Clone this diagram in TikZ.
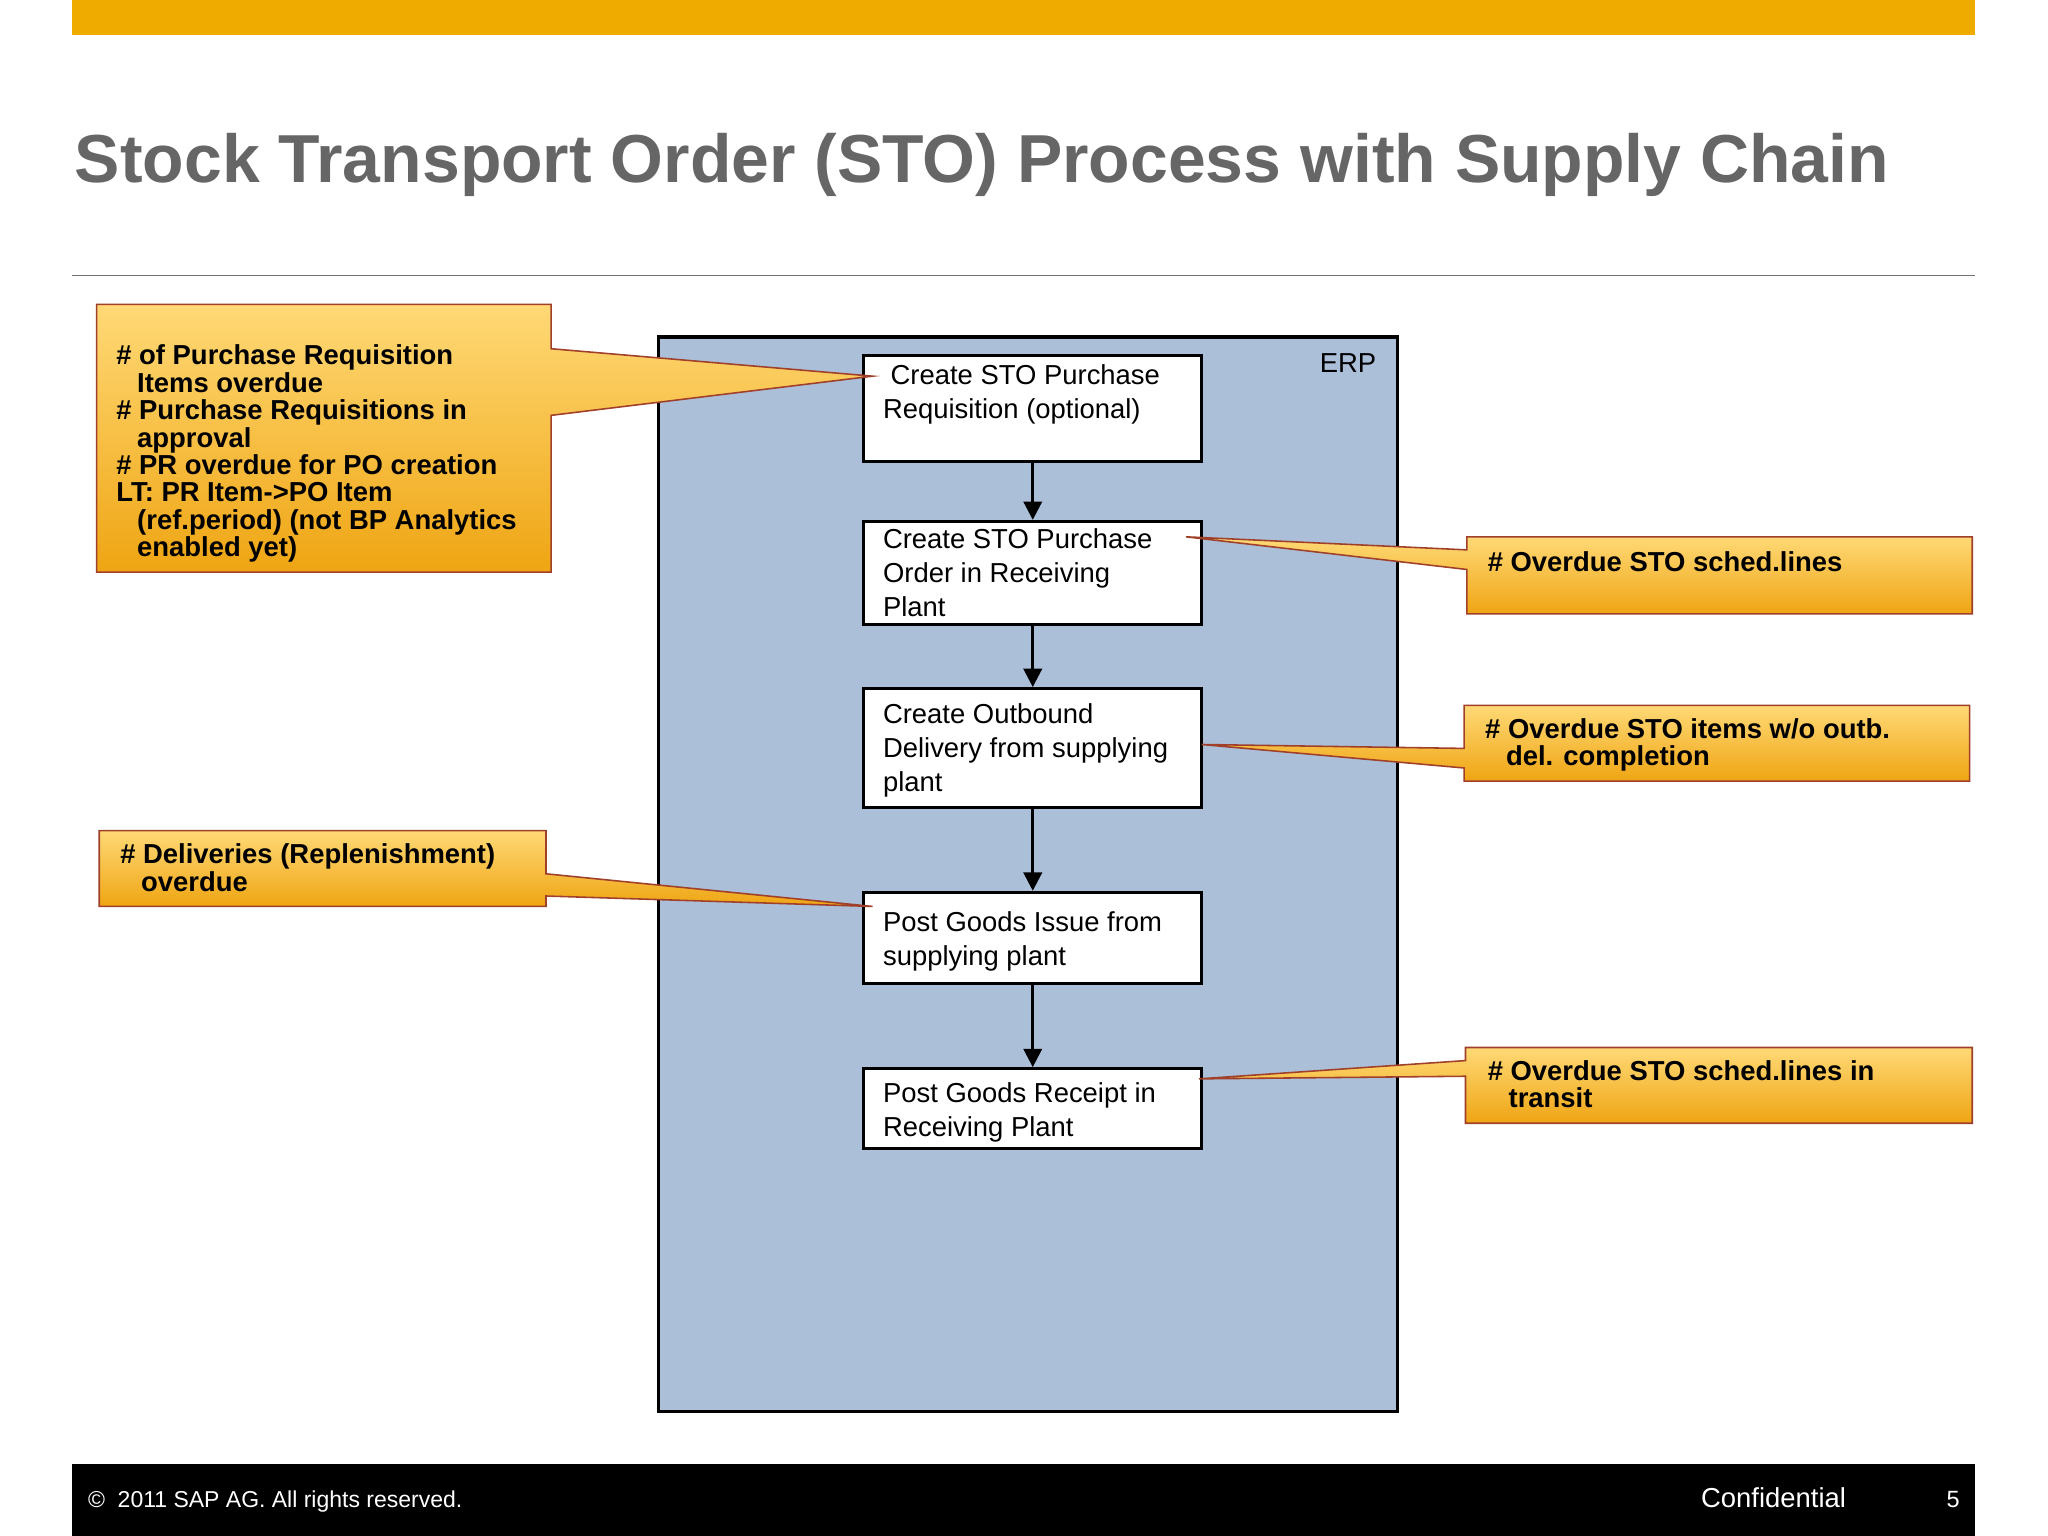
\documentclass[tikz,border=0pt]{standalone}
\usepackage{fontspec}
\setmainfont{Liberation Sans}
\usetikzlibrary{arrows.meta}
\definecolor{sapor}{HTML}{F0AB00}
\definecolor{erp}{HTML}{ABBFD8}
\definecolor{ctop}{HTML}{FFD976}
\definecolor{cbot}{HTML}{EFA513}
\definecolor{cbord}{HTML}{A0402A}
\tikzset{
 proc/.style={draw=black,line width=1.2pt,fill=white,anchor=north west,inner sep=0pt},
 ptext/.style={anchor=north west,font=\fontsize{10.5}{13}\selectfont,align=left},
 ctext/.style={anchor=north west,font=\bfseries\fontsize{10.5}{10.5}\selectfont,align=left},
 callout/.style={draw=cbord,line width=0.6pt,top color=ctop,bottom color=cbot},
 flow/.style={-{Triangle[length=7pt,width=7pt]},line width=1.1pt}
}
\begin{document}
\begin{tikzpicture}[x=0.5pt,y=-0.5pt]
\useasboundingbox (0,0) rectangle (1568,1176);
\fill[white] (0,0) rectangle (1568,1176);
\fill[sapor] (55,0) rectangle (1512,27);
\node[anchor=base west,font=\bfseries\fontsize{26}{30}\selectfont,text=black!60,inner sep=0pt] (title) at (57,140) {Stock Transport Order (STO) Process with Supply Chain};
\draw[black!55,line width=0.6pt] (55,211) -- (1512,211);
\fill[black] (55,1121) rectangle (1512,1176);
\node[anchor=base west,text=white,font=\fontsize{8.8}{10}\selectfont,inner sep=0pt] (copy) at (67,1154) {\textcopyright\ \ 2011 SAP AG. All rights reserved.};
\node[anchor=base west,text=white,font=\fontsize{10.5}{12}\selectfont,inner sep=0pt] (conf) at (1302,1154) {Confidential};
\node[anchor=base west,text=white,font=\fontsize{9}{10}\selectfont,inner sep=0pt] (pg) at (1490,1154) {5};
% ERP
\draw[fill=erp,line width=1.2pt] (504,258) rectangle (1070,1081);
\node[anchor=north east,font=\fontsize{10.5}{12}\selectfont,inner sep=0pt] (erp) at (1054,270) {ERP};
% process boxes
\node[proc,minimum width=129.5pt,minimum height=40.5pt] (b1) at (660,271) {};
\node[ptext] at (669,272) {\ Create STO Purchase\\Requisition (optional)};
\node[proc,minimum width=129.5pt,minimum height=39.5pt] (b2) at (660,398) {};
\node[ptext] at (669,398) {Create STO Purchase\\Order in Receiving\\Plant};
\node[proc,minimum width=129.5pt,minimum height=45.5pt] (b3) at (660,526) {};
\node[ptext] at (669,532) {Create Outbound\\Delivery from supplying\\plant};
\node[proc,minimum width=129.5pt,minimum height=35pt] (b4) at (660,682) {};
\node[ptext] at (669,691) {Post Goods Issue from\\supplying plant};
\node[proc,minimum width=129.5pt,minimum height=30.5pt] (b5) at (660,817) {};
\node[ptext] at (669,822) {Post Goods Receipt in\\Receiving Plant};
\draw[flow] (b1.south) -- (b2.north);
\draw[flow] (b2.south) -- (b3.north);
\draw[flow] (b3.south) -- (b4.north);
\draw[flow] (b4.south) -- (b5.north);
% callouts
\draw[callout] (74,233) -- (422,233) -- (422,267) -- (668,288) -- (422,318) -- (422,438) -- (74,438) -- cycle;
\node[ctext] (c1) at (82,257) {\# of Purchase Requisition\\\hspace*{8pt}Items overdue\\\# Purchase Requisitions in\\\hspace*{8pt}approval\\\# PR overdue for PO creation\\LT: PR Item->PO Item\\\hspace*{8pt}(ref.period) (not BP Analytics\\\hspace*{8pt}enabled yet)};
\draw[callout] (1123,411) -- (1510,411) -- (1510,470) -- (1123,470) -- (1123,436) -- (908,411) -- (1123,421) -- cycle;
\node[ctext] (c2) at (1132,415) {\# Overdue STO sched.lines};
\draw[callout] (1121,540) -- (1508,540) -- (1508,598) -- (1121,598) -- (1121,588) -- (920,570) -- (1121,573) -- cycle;
\node[ctext] (c3) at (1130,543) {\# Overdue STO items w/o outb.\\\hspace*{8pt}del. completion};
\draw[callout] (76,636) -- (418,636) -- (418,669) -- (668,694) -- (418,686) -- (418,694) -- (76,694) -- cycle;
\node[ctext] (c4) at (85,639) {\# Deliveries (Replenishment)\\\hspace*{8pt}overdue};
\draw[callout] (1122,802) -- (1510,802) -- (1510,860) -- (1122,860) -- (1122,824) -- (918,826) -- (1122,812) -- cycle;
\node[ctext] (c5) at (1132,805) {\# Overdue STO sched.lines in\\\hspace*{8pt}transit};
\end{tikzpicture}
\end{document}
